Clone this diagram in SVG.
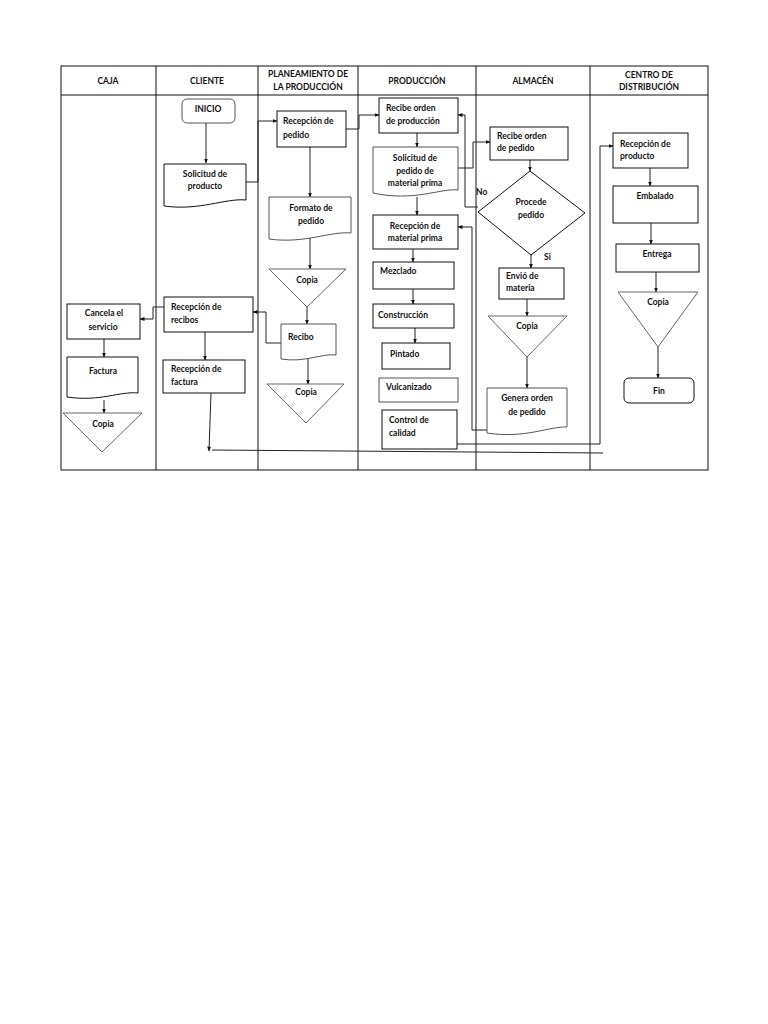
<svg xmlns="http://www.w3.org/2000/svg" width="768" height="1024" viewBox="0 0 768 1024">
<style>
text{font-family:Lato,"Open Sans","Liberation Sans",sans-serif;font-size:8.5px;font-weight:bold;fill:#111}
.h{font-size:8.5px}
.c{text-anchor:middle}
.box{fill:#fff;stroke:#111;stroke-width:1}
.soft{fill:#fff;stroke:#555;stroke-width:1}
.tri{fill:#fff;stroke:#666;stroke-width:1}
.grid{stroke:#111;stroke-width:1;fill:none}
.ln{fill:none;stroke:#222;stroke-width:1}
</style>
<defs>
<marker id="ar" viewBox="0 0 10 10" refX="9" refY="5" markerWidth="5" markerHeight="5" orient="auto" markerUnits="userSpaceOnUse">
<path d="M0,1 L10,5 L0,9 Z" fill="#111"/>
</marker>
</defs>
<rect width="768" height="1024" fill="#fff"/>

<g id="table">
<rect class="grid" x="61" y="66" width="647" height="404" stroke-width="1.3"/>
<line class="grid" x1="61" y1="95" x2="708" y2="95"/>
<line class="grid" x1="156" y1="66" x2="156" y2="470"/>
<line class="grid" x1="258" y1="66" x2="258" y2="470"/>
<line class="grid" x1="358" y1="66" x2="358" y2="470"/>
<line class="grid" x1="476" y1="66" x2="476" y2="95"/>
<line class="grid" x1="476" y1="95" x2="476" y2="470" stroke-width="2"/>
<line class="grid" x1="590" y1="66" x2="590" y2="470"/>
<text class="h c" x="108" y="84">CAJA</text>
<text class="h c" x="207" y="84">CLIENTE</text>
<text class="h c" x="308" y="77">PLANEAMIENTO DE</text>
<text class="h c" x="308" y="90">LA PRODUCCIÓN</text>
<text class="h c" x="417" y="84">PRODUCCIÓN</text>
<text class="h c" x="533" y="84">ALMACÉN</text>
<text class="h c" x="649" y="78">CENTRO DE</text>
<text class="h c" x="649" y="90">DISTRIBUCIÓN</text>
</g>

<g id="connectors">
<line class="ln" x1="206" y1="123" x2="206" y2="163" marker-end="url(#ar)"/>
<polyline class="ln" points="246,182 258,182 258,121 277,121" marker-end="url(#ar)"/>
<line class="ln" x1="310" y1="147" x2="310" y2="197" marker-end="url(#ar)"/>
<line class="ln" x1="310" y1="236" x2="310" y2="269" marker-end="url(#ar)"/>
<line class="ln" x1="307" y1="307" x2="307" y2="324" marker-end="url(#ar)"/>
<polyline class="ln" points="281,343 266,343 266,312 253,312" marker-end="url(#ar)" stroke="#555"/>
<line class="ln" x1="308" y1="359" x2="308" y2="384" marker-end="url(#ar)"/>
<polyline class="ln" points="164,307 153,307 153,319 140,319" marker-end="url(#ar)"/>
<line class="ln" x1="104" y1="339" x2="104" y2="357" marker-end="url(#ar)"/>
<line class="ln" x1="104" y1="400" x2="104" y2="413" marker-end="url(#ar)"/>
<line class="ln" x1="205" y1="332" x2="205" y2="360" marker-end="url(#ar)"/>
<line class="ln" x1="211" y1="393" x2="209" y2="451" marker-end="url(#ar)"/>
<polyline class="ln" points="212,450 603,453" stroke="#444"/>
<polyline class="ln" points="346,129 359,129 359,115 379,115" marker-end="url(#ar)"/>
<line class="ln" x1="417" y1="133" x2="417" y2="147" marker-end="url(#ar)"/>
<polyline class="ln" points="458,168 473,168 473,142 490,142" marker-end="url(#ar)"/>
<polyline class="ln" points="478,207 465,207 465,115 458,115" marker-end="url(#ar)"/>
<line class="ln" x1="417" y1="197" x2="417" y2="215" marker-end="url(#ar)"/>
<polyline class="ln" points="488,430 472,430 472,227 458,227" marker-end="url(#ar)"/>
<line class="ln" x1="413" y1="249" x2="413" y2="262" marker-end="url(#ar)"/>
<line class="ln" x1="413" y1="289" x2="413" y2="304" marker-end="url(#ar)"/>
<line class="ln" x1="415" y1="328" x2="415" y2="343" marker-end="url(#ar)"/>
<polyline class="ln" points="457,444 600,444 600,146 613,146" marker-end="url(#ar)"/>
<line class="ln" x1="530" y1="160" x2="530" y2="171" marker-end="url(#ar)"/>
<line class="ln" x1="531" y1="255" x2="531" y2="268" marker-end="url(#ar)"/>
<line class="ln" x1="527" y1="299" x2="527" y2="316" marker-end="url(#ar)"/>
<line class="ln" x1="527" y1="357" x2="527" y2="388" marker-end="url(#ar)"/>
<line class="ln" x1="650" y1="168" x2="650" y2="186" marker-end="url(#ar)"/>
<line class="ln" x1="651" y1="223" x2="651" y2="244" marker-end="url(#ar)"/>
<line class="ln" x1="656" y1="272" x2="656" y2="292" marker-end="url(#ar)"/>
<line class="ln" x1="658" y1="347" x2="658" y2="378" marker-end="url(#ar)"/>
</g>

<g id="inicio">
<rect class="soft" x="182" y="99" width="53" height="24" rx="5"/>
<text class="c" x="208" y="112">INICIO</text>
</g>
<g id="solicitud-producto">
<path class="box" d="M164,164 H246 V200 C225,198 200,211 164,206 Z"/>
<text class="c" x="205" y="177">Solicitud de</text>
<text class="c" x="205" y="189">producto</text>
</g>
<g id="recepcion-pedido">
<rect class="box" x="277" y="111" width="69" height="36"/>
<text x="283" y="124">Recepción de</text>
<text x="283" y="138">pedido</text>
</g>
<g id="formato-pedido">
<path class="soft" d="M269,197 H351 V233 C330,231 305,244 269,239 Z"/>
<text class="c" x="311" y="211">Formato de</text>
<text class="c" x="311" y="224">pedido</text>
</g>
<g id="copia-plan-1">
<path class="tri" d="M269,269 H346 L307,307 Z"/>
<text class="c" x="307" y="283">Copia</text>
</g>
<g id="recibo">
<path class="soft" d="M281,324 H336 V355 C322,353 305,363 281,359 Z"/>
<text x="288" y="340">Recibo</text>
</g>
<g id="copia-plan-2">
<path class="tri" d="M267,384 H344 L306,423 Z"/>
<text class="c" x="306" y="395">Copia</text>
</g>
<g id="recepcion-recibos">
<rect class="box" x="164" y="297" width="89" height="35"/>
<text x="171" y="310">Recepción de</text>
<text x="171" y="323">recibos</text>
</g>
<g id="cancela-servicio">
<rect class="box" x="67" y="304" width="73" height="35"/>
<text class="c" x="104" y="316">Cancela el</text>
<text class="c" x="103" y="330">servicio</text>
</g>
<g id="factura">
<path class="box" d="M67,357 H138 V393 C120,391 100,402 67,397 Z"/>
<text class="c" x="103" y="374">Factura</text>
</g>
<g id="copia-caja">
<path class="tri" d="M63,413 H142 L102,452 Z"/>
<text class="c" x="103" y="427">Copia</text>
</g>
<g id="recepcion-factura">
<rect class="box" x="163" y="360" width="82" height="33"/>
<text x="171" y="372">Recepción de</text>
<text x="171" y="385">factura</text>
</g>
<g id="recibe-orden-produccion">
<rect class="box" x="379" y="98" width="79" height="35"/>
<text x="386" y="111">Recibe orden</text>
<text x="386" y="124">de producción</text>
</g>
<g id="solicitud-material">
<path class="soft" d="M373,147 H458 V190 C440,188 415,202 373,193 Z"/>
<text class="c" x="415" y="161">Solicitud de</text>
<text class="c" x="415" y="174">pedido de</text>
<text class="c" x="415" y="186">material prima</text>
</g>
<g id="recepcion-material">
<rect class="box" x="373" y="215" width="85" height="34"/>
<text class="c" x="415" y="229">Recepción de</text>
<text class="c" x="415" y="241">material prima</text>
</g>
<g id="mezclado">
<rect class="box" x="373" y="262" width="81" height="27"/>
<text x="380" y="274">Mezclado</text>
</g>
<g id="construccion">
<rect class="box" x="373" y="304" width="81" height="24"/>
<text x="378" y="318">Construcción</text>
</g>
<g id="pintado">
<rect class="box" x="382" y="343" width="68" height="26"/>
<text x="390" y="357">Pintado</text>
</g>
<g id="vulcanizado">
<rect class="soft" x="379" y="378" width="79" height="24"/>
<text x="386" y="390">Vulcanizado</text>
</g>
<g id="control-calidad">
<rect class="box" x="382" y="410" width="75" height="39"/>
<text x="389" y="423">Control de</text>
<text x="389" y="436">calidad</text>
</g>
<g id="recibe-orden-pedido">
<rect class="box" x="490" y="127" width="78" height="33"/>
<text x="497" y="139">Recibe orden</text>
<text x="497" y="151">de pedido</text>
</g>
<g id="procede-pedido">
<path class="box" d="M530,171 L585,213 L531,255 L478,212 Z"/>
<text class="c" x="531" y="205">Procede</text>
<text class="c" x="531" y="218">pedido</text>
<text x="476" y="195">No</text>
<text x="544" y="260">Si</text>
</g>
<g id="envio-materia">
<rect class="box" x="499" y="268" width="65" height="31"/>
<text x="506" y="279">Envió de</text>
<text x="506" y="291">materia</text>
</g>
<g id="copia-almacen">
<path class="tri" d="M488,316 H567 L527,357 Z"/>
<text class="c" x="527" y="329">Copia</text>
</g>
<g id="genera-orden">
<path class="soft" d="M487,388 H567 V427 C550,426 525,439 487,433 Z"/>
<text class="c" x="527" y="401">Genera orden</text>
<text class="c" x="527" y="415">de pedido</text>
</g>
<g id="recepcion-producto">
<rect class="box" x="613" y="133" width="75" height="35"/>
<text x="620" y="147">Recepción de</text>
<text x="620" y="159">producto</text>
</g>
<g id="embalado">
<rect class="box" x="613" y="186" width="85" height="37"/>
<text class="c" x="655" y="199">Embalado</text>
</g>
<g id="entrega">
<rect class="box" x="616" y="244" width="83" height="28"/>
<text class="c" x="657" y="257">Entrega</text>
</g>
<g id="copia-centro">
<path class="tri" d="M618,292 H698 L658,347 Z"/>
<text class="c" x="658" y="305">Copia</text>
</g>
<g id="fin">
<rect class="box" x="624" y="378" width="70" height="25" rx="5"/>
<text class="c" x="659" y="394">Fin</text>
</g>
</svg>
